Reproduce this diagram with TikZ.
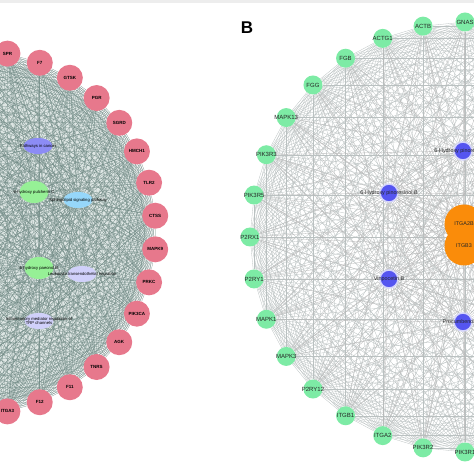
\documentclass[tikz,border=0pt]{standalone}
\usepackage{fontspec}
\setmainfont{Liberation Sans}
\usepackage{tikz}
\usetikzlibrary{positioning, shapes.geometric, backgrounds}
\definecolor{netpink}{RGB}{231, 120, 140}
\definecolor{netmint}{RGB}{125, 235, 165}
\definecolor{netblue}{RGB}{85, 85, 240}
\definecolor{netorange}{RGB}{250, 140, 10}
\definecolor{netviolet}{RGB}{140, 140, 245}
\definecolor{netgreen}{RGB}{150, 240, 150}
\definecolor{netsky}{RGB}{150, 215, 250}
\definecolor{netlav}{RGB}{208, 208, 250}
\definecolor{meshdark}{RGB}{112, 138, 133}
\definecolor{meshfill}{RGB}{222, 230, 228}
\definecolor{meshlight}{RGB}{186, 193, 193}

\begin{document}
\begin{tikzpicture}[
    x=1pt, y=1pt,
    pk/.style={circle, fill=netpink, minimum size=26pt, inner sep=0pt,
               font=\fontsize{4.5}{5}\selectfont\bfseries},
    ell/.style={ellipse, minimum width=29pt, minimum height=16pt, inner sep=0pt},
    elab/.style={font=\fontsize{4.2}{4.6}\selectfont, align=center},
    gn/.style={circle, fill=netmint, minimum size=19pt, inner sep=0pt},
    glab/.style={font=\fontsize{6}{6}\selectfont, text=black!85},
    bn/.style={circle, fill=netblue, draw=netblue!25, line width=1.5pt,
               minimum size=18pt, inner sep=0pt},
    blab/.style={font=\fontsize{5.4}{6}\selectfont, text=black!85},
    on/.style={circle, fill=netorange, minimum size=39pt, inner sep=0pt},
    lnL/.style={meshdark, line width=0.22pt},
    lnR/.style={meshlight, line width=0.3pt},
    hub/.style={black!28},
  ]
  \useasboundingbox (0,0) rectangle (474,474);
  \clip (0,0) rectangle (474,474);
  \fill[black!7] (0,471) rectangle (474,474);
  \coordinate (cL) at (-26,241.5);
  \coordinate (cR) at (465,237);

  % left network
  \foreach \g [count=\i from 0] in {SPR,F7,GTSK,PGR,SGRD,HMCH1,TLR2,CTSS,
                                    MAPK9,PRKC,PIK3CA,AGK,TNRS,F11,F12,ITGA3}
    \node[pk] (pL\i) at ([shift={({79.4-10.588*\i}:182)}]cL) {\g};
  \foreach \i in {16,...,33}
    \coordinate (pL\i) at ([shift={({79.4-10.588*\i}:182)}]cL);

  \node[ell, fill=netviolet, label={[elab]center:Pathways in cancer}] (eL1) at (38,328) {};
  \node[ell, fill=netgreen, minimum height=22pt,
        label={[elab]center:6-hydroxy pulcherin C}] (eL2) at (34,282) {};
  \node[ell, fill=netsky, label={[elab]center:Sphingolipid signaling pathway}] (eL3) at (78,274) {};
  \node[ell, fill=netgreen, minimum height=22pt,
        label={[elab]center:6-hydroxy paeonol B}] (eL4) at (39,206) {};
  \node[ell, fill=netlav, label={[elab]center:Leukocyte transendothelial migration}] (eL5) at (82,200) {};
  \node[ell, fill=netlav, label={[elab]center:Inflammatory mediator regulation of\\TRP channels}] (eL6) at (39,153) {};

  % right network
  \node[font=\fontsize{17}{17}\selectfont\bfseries] (lbB) at (247,446) {B};
  \foreach \g [count=\k from 0] in {GNAS,ACTB,ACTG1,FGB,FGG,MAPK13,PIK3R3,PIK3R5,P2RX1,
                                    P2RY1,MAPK1,MAPK3,P2RY12,ITGB1,ITGA2,PIK3R2,PIK3R1}
    \node[gn, label={[glab]center:\g}] (gR\k) at ([shift={({90+11.25*\k}:215)}]cR) {};
  \foreach \k in {17,...,31}
    \coordinate (gR\k) at ([shift={({90+11.25*\k}:215)}]cR);

  \node[bn, label={[blab]center:6-Hydroxy pinoresinol A}] (bR1) at (463,323) {};
  \node[bn, label={[blab]center:6-Hydroxy pinoresinol B}] (bR2) at (389,281) {};
  \node[bn, label={[blab]center:Vinpocetin B}] (bR3) at (389,195) {};
  \node[bn, label={[blab]center:Procumbenoside}] (bR4) at (463,152) {};
  \node[on, label={[blab]center:ITGA2B}] (oR1) at (464,250) {};
  \node[on, label={[blab]center:ITGB3}] (oR2) at (464,228) {};

  \begin{scope}[on background layer]
    \clip (0,0) rectangle (474,474);
    \fill[meshfill] (cL) circle[radius=173pt];
    \foreach \i in {0,...,32}{
      \pgfmathtruncatemacro\k{\i+1}
      \foreach \j in {\k,...,33}
        \draw[lnL] (pL\i) -- (pL\j);
    }
    \foreach \e in {1,...,6}
      \foreach \i in {0,...,33}
        \draw[lnL] (eL\e) -- (pL\i);

    \foreach \i in {0,...,30}{
      \pgfmathtruncatemacro\k{\i+1}
      \foreach \j in {\k,...,31}
        \draw[lnR] (gR\i) -- (gR\j);
    }
    \foreach \h in {bR1,bR2,bR3,bR4,oR1,oR2}
      \foreach \i in {0,...,31}
        \draw[lnR, hub] (\h) -- (gR\i);
  \end{scope}
\end{tikzpicture}
\end{document}
